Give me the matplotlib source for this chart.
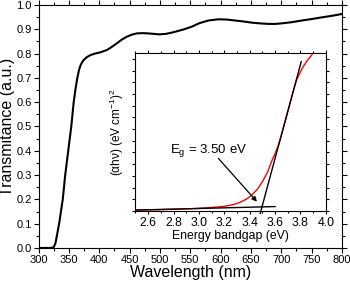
import matplotlib
matplotlib.use('Agg')
import matplotlib.pyplot as plt
from matplotlib.ticker import MultipleLocator

plt.rcParams['font.family'] = ['Liberation Sans', 'DejaVu Sans']
plt.rcParams['mathtext.fontset'] = 'custom'
plt.rcParams['mathtext.rm'] = 'Liberation Sans'
plt.rcParams['mathtext.it'] = 'Liberation Sans:italic'

# main curve: transmittance vs wavelength
wavelength = [300, 320, 325, 328, 331, 334, 337, 340, 344, 349, 354, 358, 361, 364,
              367, 370, 374, 379, 385, 393, 402, 413, 420, 429, 437, 446, 454, 462,
              472, 480, 490, 499, 510, 521, 530, 540, 553, 565, 580, 596, 610, 624,
              638, 652, 666, 679, 690, 700, 717, 734, 750, 767, 785, 800]
transmittance = [0.0, 0.0, 0.003, 0.02, 0.06, 0.10, 0.15, 0.20, 0.30, 0.40, 0.50, 0.60,
                 0.655, 0.70, 0.735, 0.756, 0.772, 0.784, 0.793, 0.800, 0.805, 0.815,
                 0.826, 0.842, 0.857, 0.870, 0.878, 0.883, 0.884, 0.883, 0.881, 0.879,
                 0.881, 0.887, 0.893, 0.900, 0.911, 0.925, 0.936, 0.941, 0.940, 0.936,
                 0.932, 0.927, 0.924, 0.922, 0.922, 0.924, 0.929, 0.936, 0.942, 0.949,
                 0.956, 0.963]

# inset: (alpha h nu)^2 vs energy
energy = [2.50, 2.60, 2.70, 2.80, 2.90, 3.00, 3.10, 3.20, 3.26, 3.30, 3.34, 3.38, 3.42,
          3.46, 3.50, 3.54, 3.575, 3.60, 3.63, 3.66, 3.70, 3.73, 3.75, 3.77, 3.80,
          3.82, 3.85, 3.88, 3.90]
alpha_hv2 = [0.008, 0.010, 0.012, 0.015, 0.018, 0.023, 0.030, 0.040, 0.052, 0.064,
             0.082, 0.105, 0.14, 0.185, 0.25, 0.33, 0.43, 0.49, 0.575, 0.69, 0.85,
             0.97, 1.05, 1.12, 1.19, 1.23, 1.28, 1.32, 1.35]

baseline_e = [2.5, 3.6]
baseline_y = [0.008, 0.038]
tangent_e = [3.483, 3.806]
tangent_y = [-0.02, 1.276]

fig = plt.figure(figsize=(3.5, 2.85), dpi=100)
ax = fig.add_axes([0.11, 0.13, 0.867, 0.8526])
ax.plot(wavelength, transmittance, color='black', lw=1.5)
ax.set_xlim(300, 800)
ax.set_ylim(0, 1.0)
ax.xaxis.set_major_locator(MultipleLocator(50))
ax.xaxis.set_minor_locator(MultipleLocator(25))
ax.yaxis.set_major_locator(MultipleLocator(0.1))
ax.yaxis.set_minor_locator(MultipleLocator(0.05))
ax.tick_params(which='both', direction='out', top=True, right=True, labelsize=8,
               width=0.8, pad=1.5)
ax.tick_params(which='major', length=3.5)
ax.tick_params(which='minor', length=2)
for s in ax.spines.values():
    s.set_linewidth(0.8)
ax.set_xlabel('Wavelength (nm)', fontsize=11.5, labelpad=0)
ax.set_ylabel('Transmitance (a.u.)', fontsize=11.5, labelpad=1)

ins = fig.add_axes([0.387, 0.2596, 0.544, 0.5544])
ins.plot(energy, alpha_hv2, color='red', lw=1.0)
ins.plot(baseline_e, baseline_y, color='black', lw=1.0)
ins.plot(tangent_e, tangent_y, color='black', lw=1.0, clip_on=False)
ins.set_xlim(2.5, 4.0)
ins.set_ylim(0, 1.35)
ins.xaxis.set_major_locator(MultipleLocator(0.2))
ins.xaxis.set_minor_locator(MultipleLocator(0.1))
ins.yaxis.set_major_locator(MultipleLocator(0.1))
ins.tick_params(which='both', direction='out', top=True, right=True, labelsize=8.8,
                width=0.8, pad=1.5, labelleft=False)
ins.tick_params(which='major', length=2.5)
ins.tick_params(which='minor', length=1.5)
for s in ins.spines.values():
    s.set_linewidth(0.8)
ins.set_xlabel('Energy bandgap (eV)', fontsize=8.8, labelpad=1)
ins.set_ylabel('(\u03b1h\u03bd) (eV cm$^{-1}$)$^2$', fontsize=8.5, labelpad=4)
ins.annotate('', xy=(3.457, 0.08), xytext=(3.153, 0.45),
             arrowprops=dict(arrowstyle='-|>', color='black', lw=0.9,
                             mutation_scale=7, shrinkA=0, shrinkB=0))
ins.text(2.772, 0.52, 'E$_\\mathrm{g}$ = 3.50 eV', fontsize=9.5, va='center', ha='left')

fig.savefig('out.png', dpi=100)
